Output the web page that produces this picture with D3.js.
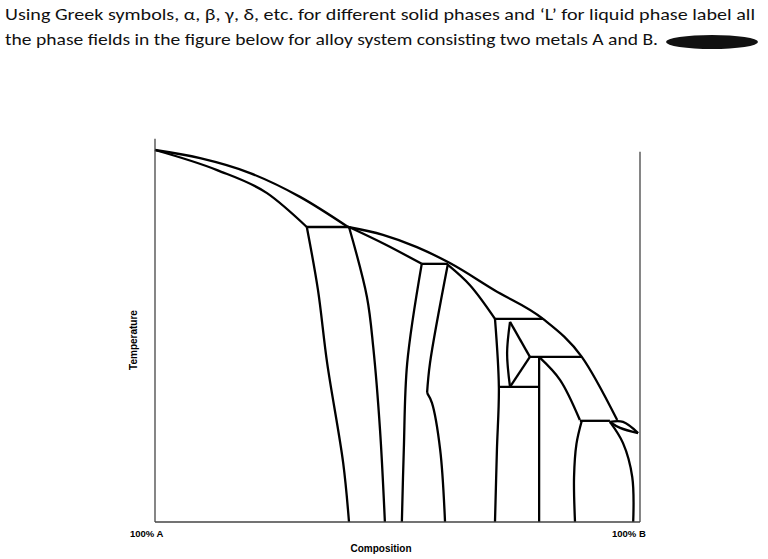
<!DOCTYPE html><html><head><meta charset="utf-8">
<script src="https://cdn.jsdelivr.net/npm/d3@7"></script>
<style>body{margin:0;background:#fff}</style></head><body>
<script>
// Phase boundary curves: [composition %B, relative temperature]
const liquidusA=[[0,100],[9.3,97.8],[19.6,93.8],[29.9,87.4],[39.8,79.3]];
const liquidusB=[[39.8,79.3],[47,77.2],[54,73.9],[60.8,69.6],[70,62.3],[80,54.6],[88,44.4],[95.3,27.4]];
const alphaSolidus=[[0,100],[12.8,94.6],[23.1,88.4],[31.3,79.3]];
const alphaSolvus=[[31.3,79.3],[33.6,62.4],[35.5,42.7],[38.8,15.9],[40,0]];
const betaLeft=[[40,79.3],[43.7,60.5],[45,47],[46.4,24.7],[47.4,0]];
const betaSolidus=[[40,79.3],[47.5,74.6],[55,69.4]];
const gammaLeft=[[55,69.4],[52,42.7],[51.3,19.4],[50.9,0]];
const gammaRight=[[60.4,69.4],[56.7,42.7],[56.1,34.7]];
const gammaRight2=[[56.1,34.7],[57.1,32],[58.8,19.4],[59.8,0]];
const gammaLiq=[[60.4,69.1],[64.9,63.7],[70.1,54.6]];
const deltaLeft=[[70.1,54.6],[70.9,36.3],[70.5,19.4],[70.1,0]];
const lensLeft=[[73.2,53.8],[72.6,45.4],[73.2,36.3]];
const eps=[[79.4,44.1],[83.5,38.2],[87.6,27.4]];
const zetaLeft=[[88,27.2],[86.9,21],[86.4,12],[86.6,0]];
const lensUpper=[[93.8,26.9],[96.5,26.9],[99.6,23.9]];
const lensLower=[[93.8,26.9],[95.9,25.3],[99.6,23.9]];
const zetaRight=[[93.8,26.9],[96.5,21.2],[98.4,12.1],[98.6,0]];
const straight=[
 [[31.3,79.3],[40,79.3]],[[55,69.4],[60.4,69.4]],[[70.1,54.6],[80,54.6]],
 [[70.9,36.3],[79.2,36.3]],[[79.2,44.1],[79.2,0]],[[73.2,53.8],[77.3,44.4]],
 [[77.3,44.4],[73.2,36.3]],[[77.3,44.4],[88,44.4]],[[87.6,27.2],[93.8,27.2]]];
const axisLines=[[[0,103],[0,0]],[[0,0],[100,0]],[[100,99.5],[100,0]]];
const xLabels=["100% A","100% B"];

const W=768,H=559;
const svg=d3.select("body").append("svg").attr("width",W).attr("height",H);
const x=d3.scaleLinear().domain([0,100]).range([155,640]);
const y=d3.scaleLinear().domain([0,100]).range([522,150]);
const ff="Carlito, 'Open Sans', sans-serif";
svg.append("text").attr("x",5).attr("y",20).attr("font-family",ff).attr("font-size",16.5).attr("fill","#111")
 .attr("textLength",750).attr("lengthAdjust","spacingAndGlyphs")
 .text("Using Greek symbols, α, β, γ, δ, etc. for different solid phases and ‘L’ for liquid phase label all");
svg.append("text").attr("x",5).attr("y",45).attr("font-family",ff).attr("font-size",16.5).attr("fill","#111")
 .attr("textLength",653).attr("lengthAdjust","spacingAndGlyphs")
 .text("the phase fields in the figure below for alloy system consisting two metals A and B.");
svg.append("ellipse").attr("cx",712).attr("cy",42).attr("rx",46).attr("ry",7).attr("fill","#111");

const lx=d3.line().x(d=>x(d[0])).y(d=>y(d[1])).curve(d3.curveMonotoneX);
const lc=d3.line().x(d=>x(d[0])).y(d=>y(d[1])).curve(d3.curveCatmullRom);
const ll=d3.line().x(d=>x(d[0])).y(d=>y(d[1]));
const st=p=>p.attr("fill","none").attr("stroke","#000").attr("stroke-width",2.3);
[liquidusA,liquidusB,alphaSolidus].forEach(c=>st(svg.append("path").attr("d",lx(c))));
[alphaSolvus,betaLeft,betaSolidus,gammaLeft,gammaRight,gammaRight2,gammaLiq,deltaLeft,lensLeft,eps,zetaLeft,lensUpper,lensLower,zetaRight]
 .forEach(c=>st(svg.append("path").attr("d",lc(c))));
straight.forEach(c=>st(svg.append("path").attr("d",ll(c))));
axisLines.forEach(c=>svg.append("path").attr("d",ll(c)).attr("fill","none").attr("stroke","#444").attr("stroke-width",1.3));

const af="'Liberation Sans', Arial, sans-serif";
svg.append("text").attr("x",x(0)-25).attr("y",537).attr("font-family",af).attr("font-size",9.5).attr("font-weight","bold").text(xLabels[0]);
svg.append("text").attr("x",x(100)-28).attr("y",537).attr("font-family",af).attr("font-size",9.5).attr("font-weight","bold").text(xLabels[1]);
svg.append("text").attr("x",381).attr("y",552).attr("text-anchor","middle").attr("font-family",af).attr("font-size",10).attr("font-weight","bold").text("Composition");
svg.append("text").attr("transform","translate(137,340) rotate(-90)").attr("text-anchor","middle").attr("font-family",af).attr("font-size",10).attr("font-weight","bold").text("Temperature");
</script></body></html>
